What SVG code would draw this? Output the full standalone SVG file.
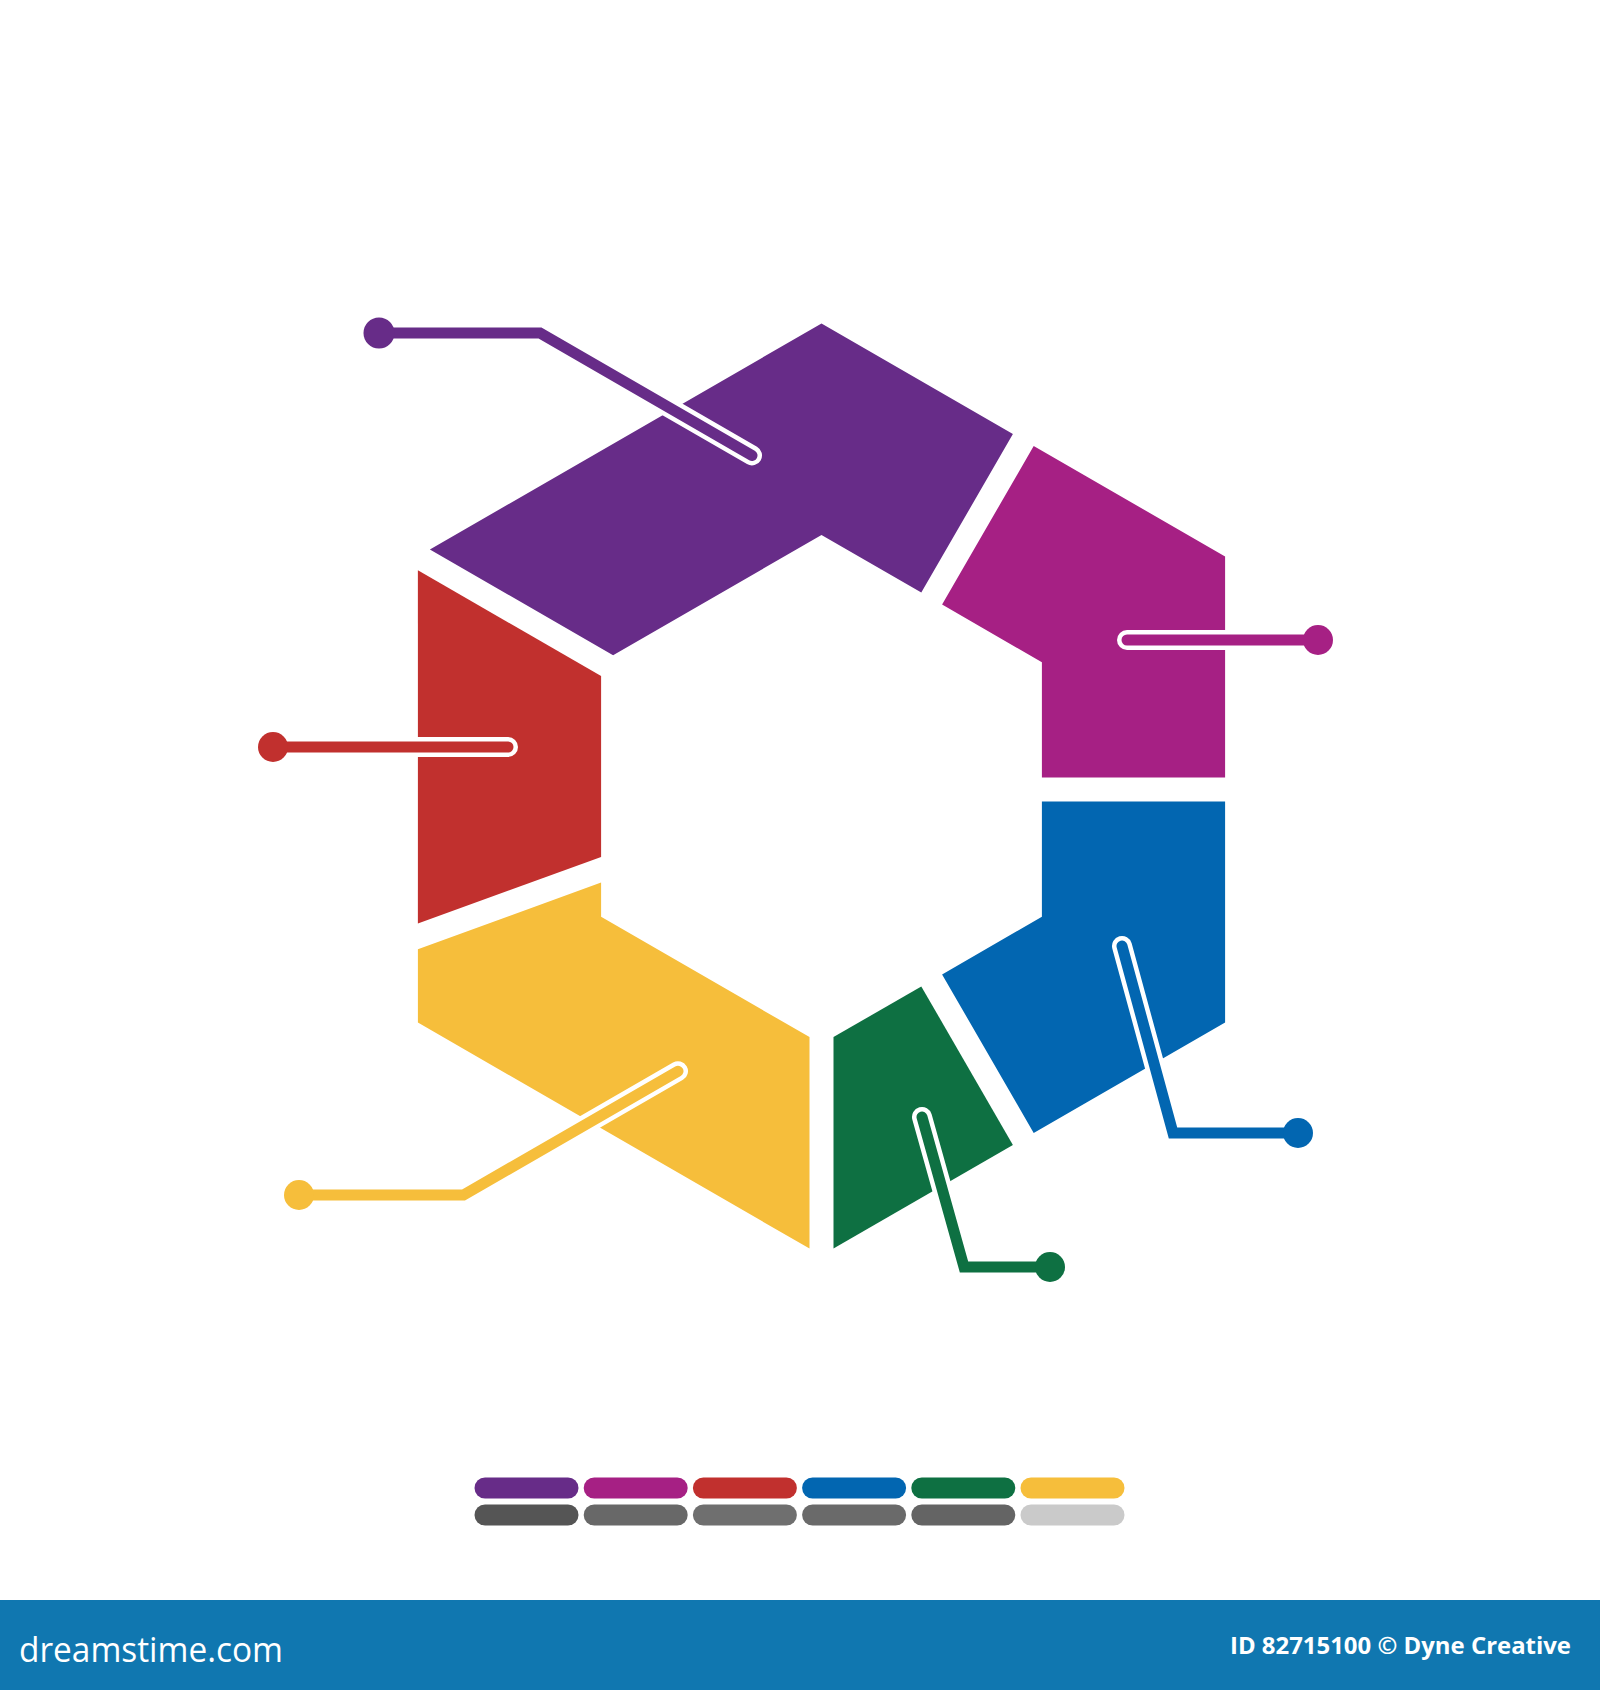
<svg xmlns="http://www.w3.org/2000/svg" width="1600" height="1690" viewBox="0 0 1600 1690">
  <style>
    .halo { fill: none; stroke: #ffffff; stroke-width: 20; stroke-linecap: round; stroke-linejoin: round; }
    .wire { fill: none; stroke-width: 11; stroke-linecap: round; stroke-linejoin: miter; }
    .bar { stroke: none; }
    .foot { fill: #ffffff; font-family: "Open Sans", "Liberation Sans", sans-serif; }
  </style>
  <rect x="0" y="0" width="1600" height="1690" fill="#ffffff"/>

  <g id="seg-purple">
    <polygon fill="#672C88" points="429.9,549.5 821.5,323.5 1012.9,434 921.3,592.6 821.5,535 613.1,655.3"/>
  </g>
  <g id="seg-magenta">
    <polygon fill="#A62084" points="1033.7,446 1225.1,556.5 1225.1,777.5 1041.9,777.5 1041.9,662.25 942.1,604.6"/>
  </g>
  <g id="seg-blue">
    <polygon fill="#0266B1" points="1225.1,801.5 1225.1,1022.5 1033.7,1133 942.1,974.4 1041.9,916.75 1041.9,801.5"/>
  </g>
  <g id="seg-green">
    <polygon fill="#0E7042" points="1012.9,1145 833.5,1248.6 833.5,1037.1 921.3,986.4"/>
  </g>
  <g id="seg-yellow">
    <polygon fill="#F6BE3B" points="809.5,1248.6 417.9,1022.5 417.9,949.2 601.1,882.5 601.1,916.75 809.5,1037.1"/>
  </g>
  <g id="seg-red">
    <polygon fill="#C1302E" points="417.9,570.3 601.1,676.1 601.1,856.9 417.9,923.6"/>
  </g>

  <g id="connectors">
    <g id="conn-purple">
      <polyline class="halo" points="752,455.4 540,333 379,333"/>
      <polyline class="wire" stroke="#672C88" points="752,455.4 540,333 379,333"/>
      <circle cx="379" cy="333" r="15.5" fill="#672C88"/>
    </g>
    <g id="conn-magenta">
      <polyline class="halo" points="1127,640 1318,640"/>
      <polyline class="wire" stroke="#A62084" points="1127,640 1318,640"/>
      <circle cx="1318" cy="640" r="15" fill="#A62084"/>
    </g>
    <g id="conn-red">
      <polyline class="halo" points="508,747 273,747"/>
      <polyline class="wire" stroke="#C1302E" points="508,747 273,747"/>
      <circle cx="273" cy="747" r="15" fill="#C1302E"/>
    </g>
    <g id="conn-yellow">
      <polyline class="halo" points="678,1071.2 463.5,1195 299,1195"/>
      <polyline class="wire" stroke="#F6BE3B" points="678,1071.2 463.5,1195 299,1195"/>
      <circle cx="299" cy="1195" r="15" fill="#F6BE3B"/>
    </g>
    <g id="conn-green">
      <polyline class="halo" points="922,1117 964,1267 1050,1267"/>
      <polyline class="wire" stroke="#0E7042" points="922,1117 964,1267 1050,1267"/>
      <circle cx="1050" cy="1267" r="15" fill="#0E7042"/>
    </g>
    <g id="conn-blue">
      <polyline class="halo" points="1122,946 1173,1133 1298,1133"/>
      <polyline class="wire" stroke="#0266B1" points="1122,946 1173,1133 1298,1133"/>
      <circle cx="1298" cy="1133" r="15" fill="#0266B1"/>
    </g>
  </g>

  <g id="swatches">
    <rect class="bar" x="474.5" y="1477.5" width="104" height="21" rx="10.5" fill="#672C88"/>
    <rect class="bar" x="583.7" y="1477.5" width="104" height="21" rx="10.5" fill="#A62084"/>
    <rect class="bar" x="692.9" y="1477.5" width="104" height="21" rx="10.5" fill="#C1302E"/>
    <rect class="bar" x="802.1" y="1477.5" width="104" height="21" rx="10.5" fill="#0266B1"/>
    <rect class="bar" x="911.3" y="1477.5" width="104" height="21" rx="10.5" fill="#0E7042"/>
    <rect class="bar" x="1020.5" y="1477.5" width="104" height="21" rx="10.5" fill="#F6BE3B"/>
    <rect class="bar" x="474.5" y="1504.5" width="104" height="21" rx="10.5" fill="#555555"/>
    <rect class="bar" x="583.7" y="1504.5" width="104" height="21" rx="10.5" fill="#686868"/>
    <rect class="bar" x="692.9" y="1504.5" width="104" height="21" rx="10.5" fill="#6F6F6F"/>
    <rect class="bar" x="802.1" y="1504.5" width="104" height="21" rx="10.5" fill="#6A6A6A"/>
    <rect class="bar" x="911.3" y="1504.5" width="104" height="21" rx="10.5" fill="#646464"/>
    <rect class="bar" x="1020.5" y="1504.5" width="104" height="21" rx="10.5" fill="#CACACA"/>
  </g>

  <g id="footer">
    <rect x="0" y="1600" width="1600" height="90" fill="#1077B0"/>
    <text class="foot" x="19" y="1662" font-size="34" textLength="264" lengthAdjust="spacingAndGlyphs">dreamstime.com</text>
    <text class="foot" x="1230" y="1654" font-size="24" font-weight="bold" textLength="341" lengthAdjust="spacingAndGlyphs">ID 82715100 © Dyne Creative</text>
  </g>
</svg>
